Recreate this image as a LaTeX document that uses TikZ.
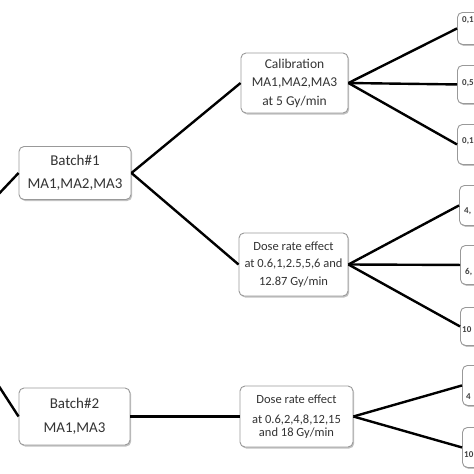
\documentclass[tikz,border=0pt]{standalone}
\usepackage{fontspec}
\setmainfont{Carlito}
\usetikzlibrary{shadows}
\tikzset{
    box/.style={draw=black!40, line width=0.9pt, rounded corners=5pt, fill=white, align=center, inner sep=2pt, text=black!80,
        drop shadow={shadow xshift=1.2pt, shadow yshift=-1.5pt, opacity=0.4, fill=black!60}},
    leafbox/.style={box, anchor=north west, minimum width=60pt},
    leaftext/.style={anchor=west, inner sep=0pt, text=black!75, font=\fontsize{9}{10}\selectfont\bfseries},
    link/.style={line width=2.4pt, black}
}
\begin{document}
\begin{tikzpicture}[x=1pt, y=-1pt]
        \useasboundingbox (0, 0) rectangle (474, 474);
        \clip (0, 0) rectangle (474, 474);

        \coordinate (root) at (-75, 272);

        \node[box, minimum width=112pt, minimum height=53pt, font=\fontsize{15}{23}\selectfont] (batchA) at (75, 173) {Batch\#1\\MA1,MA2,MA3};
        \node[box, minimum width=111pt, minimum height=57pt, font=\fontsize{15}{24}\selectfont] (batchB) at (74.5, 416.5) {Batch\#2\\MA1,MA3};

        \node[box, minimum width=107pt, minimum height=60pt, font=\fontsize{13.5}{18.5}\selectfont] (calib) at (294.5, 83) {Calibration\\MA1,MA2,MA3\\at 5 Gy/min};
        \node[box, minimum width=109pt, minimum height=63pt, font=\fontsize{12.5}{17.5}\selectfont] (doseA) at (293.5, 264.5) {Dose rate effect\\at 0.6,1,2.5,5,6 and\\12.87 Gy/min};
        \node[box, minimum width=113pt, minimum height=61pt, font=\fontsize{12.5}{13}\selectfont] (doseB) at (296.5, 416.5) {Dose rate effect\\[7pt]at 0.6,2,4,8,12,15\\and 18 Gy/min};

        % leaves, cut off by the right edge
        \node[leafbox, minimum height=32pt] (leafA) at (457, 12) { };
        \node[leafbox, minimum height=38pt] (leafB) at (457, 65) { };
        \node[leafbox, minimum height=40pt] (leafC) at (457, 124) { };
        \node[leafbox, minimum height=40pt] (leafD) at (459, 185) { };
        \node[leafbox, minimum height=39pt] (leafE) at (460, 245) { };
        \node[leafbox, minimum height=38pt] (leafF) at (460, 307) { };
        \node[leafbox, minimum height=40pt] (leafG) at (462, 365) { };
        \node[leafbox, minimum height=40pt] (leafH) at (462, 427) { };

        \node[leaftext] (txtA) at (462, 20) {0,1};
        \node[leaftext] (txtB) at (462, 83) {0,5};
        \node[leaftext] (txtC) at (462, 141) {0,1};
        \node[leaftext] (txtD) at (464, 211) {4,};
        \node[leaftext] (txtE) at (465, 272) {6,};
        \node[leaftext] (txtF) at (462, 330) {10};
        \node[leaftext] (txtG) at (466, 397) {4};
        \node[leaftext] (txtH) at (464, 455) {10};

        \draw[link] (root) -- (batchA.west);
        \draw[link] (root) -- (batchB.west);

        \draw[link] (batchA.east) -- (calib.west);
        \draw[link] (batchA.east) -- (doseA.west);
        \draw[link] (batchB.east) -- (doseB.west);

        \draw[link] (calib.east) -- (leafA.west);
        \draw[link] (calib.east) -- (leafB.west);
        \draw[link] (calib.east) -- (leafC.west);
        \draw[link] (doseA.east) -- (leafD.west);
        \draw[link] (doseA.east) -- (leafE.west);
        \draw[link] (doseA.east) -- (leafF.west);
        \draw[link] (doseB.east) -- (leafG.west);
        \draw[link] (doseB.east) -- (leafH.west);
    \end{tikzpicture}
\end{document}
